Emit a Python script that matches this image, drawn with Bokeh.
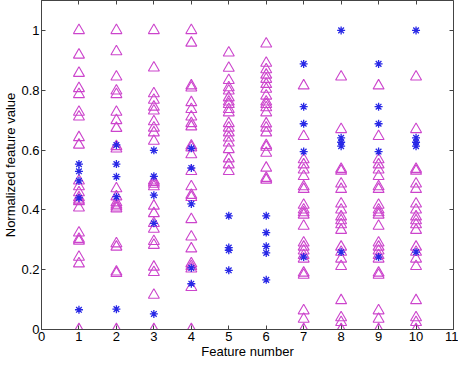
from bokeh.plotting import figure
from bokeh.models import LinearAxis, FixedTicker, Range1d
from bokeh.embed import file_html
from bokeh.resources import INLINE

features = [1, 2, 3, 4, 5, 6, 7, 8, 9, 10]

tri_f1 = [1.0, 0.918, 0.857, 0.806, 0.786, 0.727, 0.711, 0.642, 0.617, 0.497, 0.478, 0.458, 0.441, 0.433, 0.428, 0.407, 0.323, 0.302, 0.296, 0.242, 0.220, 0.0]
star_f1 = [0.553, 0.529, 0.497, 0.44, 0.066]
tri_f2 = [1.0, 0.929, 0.845, 0.798, 0.786, 0.727, 0.699, 0.673, 0.612, 0.604, 0.471, 0.444, 0.424, 0.416, 0.410, 0.404, 0.287, 0.276, 0.193, 0.188, 0.0]
star_f2 = [0.617, 0.553, 0.511, 0.444, 0.068]
tri_f3 = [1.0, 0.875, 0.789, 0.767, 0.744, 0.731, 0.695, 0.674, 0.658, 0.630, 0.497, 0.492, 0.486, 0.478, 0.413, 0.388, 0.355, 0.336, 0.295, 0.282, 0.209, 0.191, 0.115, 0.0]
star_f3 = [0.599, 0.512, 0.449, 0.355, 0.052]
tri_f4 = [1.0, 0.958, 0.815, 0.808, 0.759, 0.736, 0.711, 0.689, 0.678, 0.614, 0.608, 0.585, 0.529, 0.478, 0.449, 0.442, 0.368, 0.310, 0.270, 0.220, 0.211, 0.203, 0.141, 0.0]
star_f4 = [0.606, 0.540, 0.420, 0.206, 0.153]
tri_f5 = [0.925, 0.874, 0.833, 0.809, 0.798, 0.775, 0.761, 0.753, 0.736, 0.725, 0.689, 0.674, 0.658, 0.641, 0.624, 0.602, 0.571, 0.551, 0.529]
star_f5 = [0.380, 0.274, 0.265, 0.198]
tri_f6 = [0.955, 0.891, 0.869, 0.851, 0.837, 0.820, 0.804, 0.781, 0.761, 0.753, 0.742, 0.725, 0.688, 0.674, 0.658, 0.616, 0.610, 0.590, 0.540, 0.506, 0.500]
star_f6 = [0.380, 0.324, 0.278, 0.256, 0.166]
tri_f7 = [0.815, 0.646, 0.568, 0.551, 0.534, 0.512, 0.478, 0.469, 0.416, 0.400, 0.391, 0.383, 0.346, 0.290, 0.276, 0.263, 0.248, 0.236, 0.189, 0.182, 0.063, 0.035, 0.0]
star_f7 = [0.888, 0.745, 0.688, 0.595, 0.242]
tri_f8 = [0.845, 0.669, 0.536, 0.530, 0.487, 0.469, 0.420, 0.400, 0.377, 0.364, 0.351, 0.332, 0.276, 0.259, 0.236, 0.211, 0.097, 0.040, 0.024, 0.0]
star_f8 = [1.0, 0.641, 0.626, 0.613, 0.259]
tri_f9 = [0.815, 0.646, 0.568, 0.551, 0.534, 0.512, 0.478, 0.469, 0.416, 0.400, 0.391, 0.383, 0.346, 0.290, 0.276, 0.263, 0.248, 0.236, 0.189, 0.182, 0.063, 0.035, 0.0]
star_f9 = [0.888, 0.745, 0.688, 0.595, 0.242]
tri_f10 = [0.845, 0.669, 0.536, 0.530, 0.487, 0.469, 0.420, 0.400, 0.377, 0.364, 0.351, 0.332, 0.276, 0.259, 0.236, 0.211, 0.097, 0.040, 0.024, 0.0]
star_f10 = [1.0, 0.641, 0.626, 0.613, 0.259]

x_ticks = [0, 1, 2, 3, 4, 5, 6, 7, 8, 9, 10, 11]
y_ticks = [0, 0.2, 0.4, 0.6, 0.8, 1.0]
y_tick_labels = ["0", "0.2", "0.4", "0.6", "0.8", "1"]

tri_lists = [tri_f1, tri_f2, tri_f3, tri_f4, tri_f5, tri_f6, tri_f7, tri_f8, tri_f9, tri_f10]
star_lists = [star_f1, star_f2, star_f3, star_f4, star_f5, star_f6, star_f7, star_f8, star_f9, star_f10]

tri_x, tri_y, star_x, star_y = [], [], [], []
for f, vals in zip(features, tri_lists):
    tri_x += [f] * len(vals)
    tri_y += vals
for f, vals in zip(features, star_lists):
    star_x += [f] * len(vals)
    star_y += vals

FONT = "Liberation Sans"
FS = "13px"

p = figure(width=458, height=361, output_backend="svg", toolbar_location=None,
           x_range=Range1d(0, 11), y_range=Range1d(0, 1.1),
           min_border_left=39, min_border_right=5, min_border_top=0, min_border_bottom=0)
p.background_fill_color = "white"
p.border_fill_color = "white"
p.outline_line_color = "#444444"
p.outline_line_width = 1
p.xgrid.visible = False
p.ygrid.visible = False

p.scatter(tri_x, tri_y, marker="triangle", size=11, fill_color=None,
          line_color="#cc44cc", line_width=1.1)
p.scatter(star_x, star_y, marker="asterisk", size=8, line_color="#2828e6", line_width=1.3)

for ax in p.xaxis:
    ax.ticker = FixedTicker(ticks=x_ticks)
    ax.axis_label = "Feature number"
for ax in p.yaxis:
    ax.ticker = FixedTicker(ticks=y_ticks)
    ax.major_label_overrides = {t: l for t, l in zip(y_ticks, y_tick_labels)}
    ax.axis_label = "Normalized feature value"

for ax in p.xaxis + p.yaxis:
    ax.axis_line_color = "#444444"
    ax.major_tick_in = 4
    ax.major_tick_out = 0
    ax.minor_tick_line_color = None
    ax.major_tick_line_color = "#444444"
    ax.major_label_text_font = FONT
    ax.major_label_text_font_size = FS
    ax.major_label_text_color = "black"
    ax.axis_label_text_font = FONT
    ax.axis_label_text_font_size = FS
    ax.axis_label_text_font_style = "normal"
    ax.axis_label_text_color = "black"
    ax.major_label_standoff = 2
    ax.axis_label_standoff = 0

top = LinearAxis(ticker=FixedTicker(ticks=x_ticks), major_tick_in=4, major_tick_out=0,
                 minor_tick_line_color=None, major_label_text_color=None,
                 major_label_text_font_size="1px",
                 major_label_standoff=0, axis_line_color=None, major_tick_line_color="#444444")
right = LinearAxis(ticker=FixedTicker(ticks=y_ticks), major_tick_in=4, major_tick_out=0,
                   minor_tick_line_color=None, major_label_text_color=None,
                   major_label_text_font_size="1px",
                   major_label_standoff=0, axis_line_color=None, major_tick_line_color="#444444")
p.add_layout(top, "above")
p.add_layout(right, "right")

open("out.html", "w").write(file_html(p, INLINE))
